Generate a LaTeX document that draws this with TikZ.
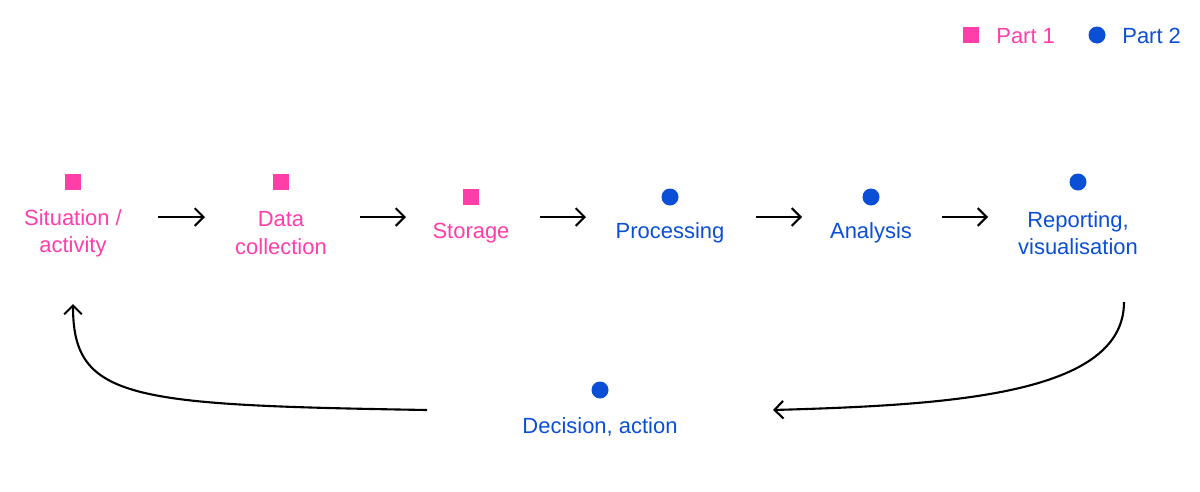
\documentclass[tikz,border=0pt]{standalone}
\usepackage{fontspec}
\setmainfont{Liberation Sans}
\usetikzlibrary{arrows.meta}
\definecolor{pk}{HTML}{FF3EAA}
\definecolor{bl}{HTML}{0A4FD6}
\begin{document}
\begin{tikzpicture}[x=0.02cm,y=-0.02cm,
  lbl/.style={font=\fontsize{12.5pt}{15.5pt}\selectfont,align=center,inner sep=0pt},
  sq/.style={fill=pk,minimum size=0.32cm,inner sep=0pt},
  dot/.style={circle,fill=bl,minimum size=0.34cm,inner sep=0pt},
  arr/.style={line width=1.2pt,-{Straight Barb[length=5pt,width=10pt]}}]
\path[use as bounding box] (0,0) rectangle (1200,491);
% legend
\node[sq] (l1) at (971,35) {};
\node[lbl,text=pk,anchor=west] (t1) at (996,36) {Part 1};
\node[dot] (l2) at (1097,35) {};
\node[lbl,text=bl,anchor=west] (t2) at (1122,36) {Part 2};
% items
\node[sq] (m1) at (73,182) {};
\node[lbl,text=pk] (n1) at (73,233) {Situation /\\activity};
\node[sq] (m2) at (281,182) {};
\node[lbl,text=pk] (n2) at (281,233) {Data\\collection};
\node[sq] (m3) at (471,197) {};
\node[lbl,text=pk] (n3) at (471,233) {Storage};
\node[dot] (m4) at (670,197) {};
\node[lbl,text=bl] (n4) at (670,233) {Processing};
\node[dot] (m5) at (871,197) {};
\node[lbl,text=bl] (n5) at (871,233) {Analysis};
\node[dot] (m6) at (1078,182) {};
\node[lbl,text=bl] (n6) at (1078,233) {Reporting,\\visualisation};
\node[dot] (m7) at (600,390) {};
\node[lbl,text=bl] (n7) at (600,427) {Decision, action};
% arrows
\coordinate (a1) at (158,217); \coordinate (b1) at (205,217);
\coordinate (a2) at (360,217); \coordinate (b2) at (406,217);
\coordinate (a3) at (540,217); \coordinate (b3) at (586,217);
\coordinate (a4) at (756,217); \coordinate (b4) at (802,217);
\coordinate (a5) at (942,217); \coordinate (b5) at (988,217);
\foreach \i in {1,...,5} \draw[arr] (a\i) -- (b\i);
\coordinate (r0) at (1124,302); \coordinate (r1) at (773,410);
\coordinate (q0) at (427,410); \coordinate (q1) at (73,304);
\draw[arr] (r0) .. controls (1124,395) and (950,405) .. (r1);
\draw[arr] (q0) .. controls (130,405) and (73,400) .. (q1);
\end{tikzpicture}
\end{document}
